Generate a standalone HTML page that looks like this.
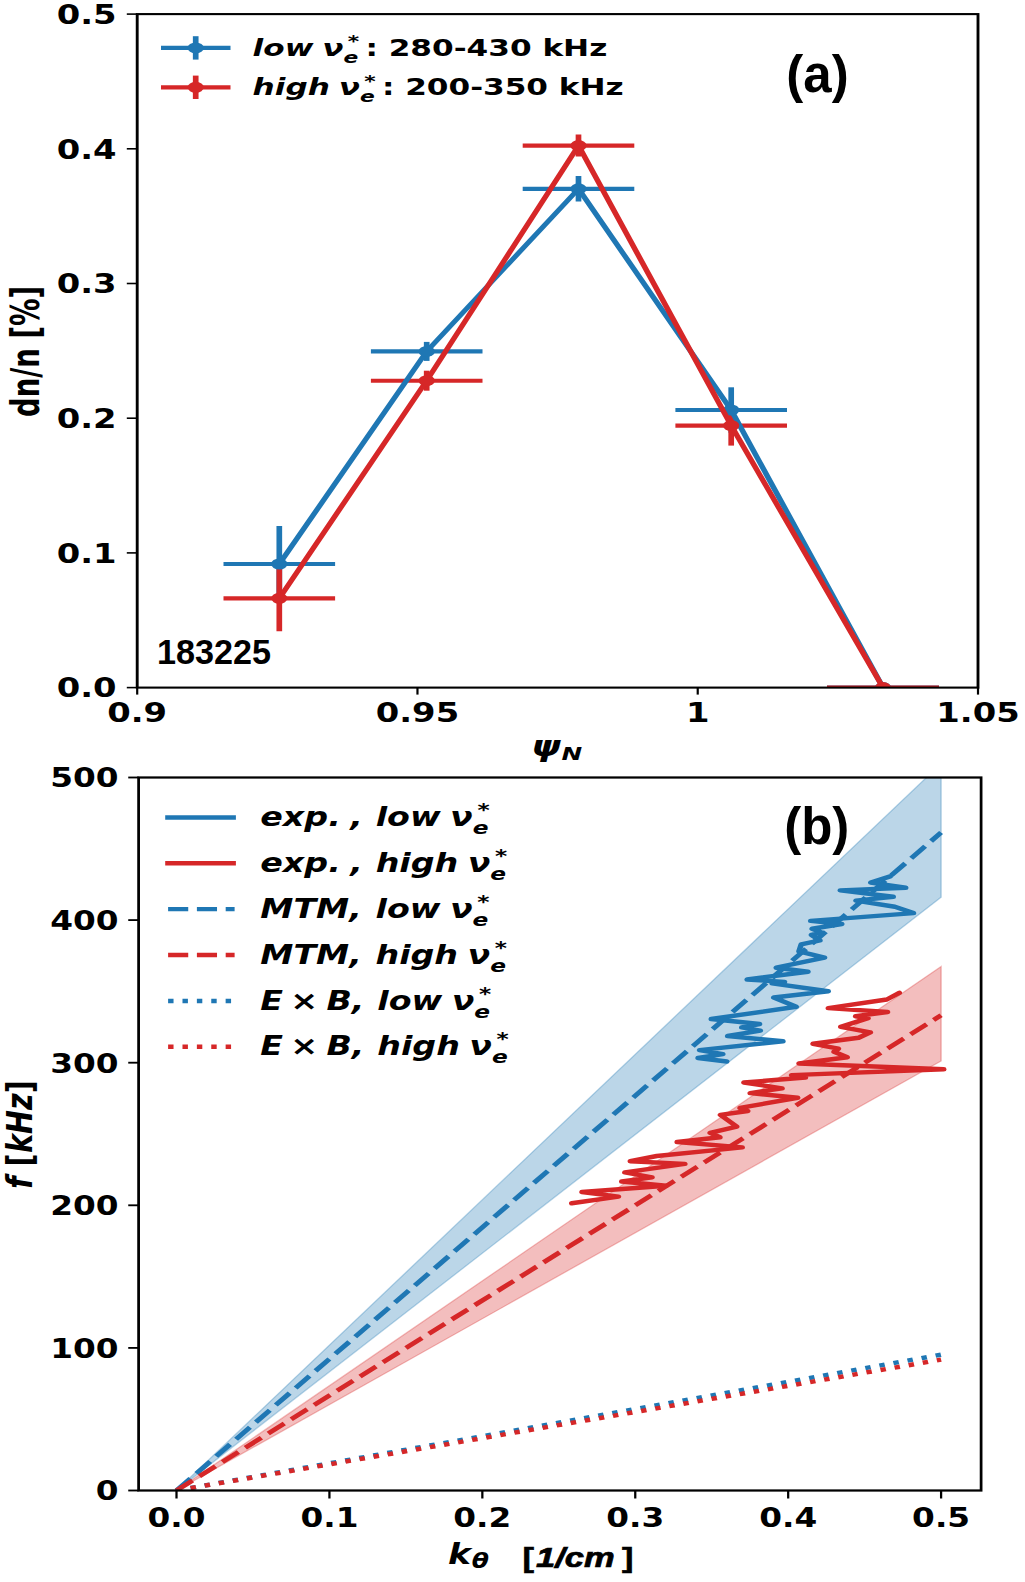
<!DOCTYPE html>
<html lang="en"><head><meta charset="utf-8"><title>Figure: density fluctuation profiles and MTM dispersion</title>
<style>
html,body{margin:0;padding:0;background:#fff}
svg{display:block}
text{fill:#000;white-space:pre}
.b{font-family:"DejaVu Sans","Liberation Sans",sans-serif;font-weight:700}
.bi{font-family:"DejaVu Sans","Liberation Sans",sans-serif;font-weight:700;font-style:italic}
.lbi{font-family:"Liberation Sans","DejaVu Sans",sans-serif;font-weight:700;font-style:italic;stroke:#000;stroke-width:.7px}
.abk{font-family:"Liberation Sans","DejaVu Sans",sans-serif;font-weight:700;stroke:#000;stroke-width:.6px}
.r{font-family:"DejaVu Sans","Liberation Sans",sans-serif;font-weight:400}
.ab{font-family:"Liberation Sans","DejaVu Sans",sans-serif;font-weight:700}
</style></head><body>
<svg width="1025" height="1582" viewBox="0 0 1025 1582">
<rect width="1025" height="1582" fill="#fff"/>
<defs><clipPath id="ca"><rect x="137.2" y="14.1" width="840.8" height="673.5"/></clipPath>
<clipPath id="cb"><rect x="138.6" y="777.5" width="842.5" height="713"/></clipPath></defs>
<g clip-path="url(#ca)"><g transform="scale(1.37,1)">
<g stroke="#1f77b4" fill="none" stroke-width="4.15"><path d="M163.14 564H244.6"/><path d="M203.87 526V602"/><path d="M270.73 351.4H352.19"/><path d="M311.46 341.9V360.9"/><path d="M381.53 188.8H462.99"/><path d="M422.26 176.1V201.5"/><path d="M492.99 410H574.45"/><path d="M533.72 387.3V432.7"/><path d="M603.65 687.6H685.4"/></g>
<g stroke="#d62728" fill="none" stroke-width="4.15"><path d="M163.14 598.3H244.6"/><path d="M203.87 565.3V631.3"/><path d="M270.73 380.7H352.19"/><path d="M311.46 370.7V390.7"/><path d="M381.53 145.6H462.99"/><path d="M422.26 134.6V156.6"/><path d="M492.99 425.6H574.45"/><path d="M533.72 405.6V445.6"/><path d="M603.65 687.6H685.4"/></g>
<polyline stroke="#1f77b4" fill="none" stroke-width="4.15" stroke-linejoin="round" points="203.87,564 311.46,351.4 422.26,188.8 533.72,410 644.53,687.6"/><g fill="#1f77b4"><ellipse cx="203.87" cy="564" rx="5.9" ry="5.5"/><ellipse cx="311.46" cy="351.4" rx="5.9" ry="5.5"/><ellipse cx="422.26" cy="188.8" rx="5.9" ry="5.5"/><ellipse cx="533.72" cy="410" rx="5.9" ry="5.5"/><ellipse cx="644.53" cy="687.6" rx="5.9" ry="5.5"/></g>
<polyline stroke="#d62728" fill="none" stroke-width="4.15" stroke-linejoin="round" points="203.87,598.3 311.46,380.7 422.26,145.6 533.72,425.6 644.53,687.6"/><g fill="#d62728"><ellipse cx="203.87" cy="598.3" rx="5.9" ry="5.5"/><ellipse cx="311.46" cy="380.7" rx="5.9" ry="5.5"/><ellipse cx="422.26" cy="145.6" rx="5.9" ry="5.5"/><ellipse cx="533.72" cy="425.6" rx="5.9" ry="5.5"/><ellipse cx="644.53" cy="687.6" rx="5.9" ry="5.5"/></g>
</g></g>
<g transform="scale(1.37,1)" stroke="#000" fill="none"><rect x="100.15" y="14.1" width="613.72" height="673.5" stroke-width="2.1"/><g stroke-width="1.6"><path d="M100.15 687.6v7"/><path d="M304.72 687.6v7"/><path d="M509.29 687.6v7"/><path d="M713.87 687.6v7"/><path d="M100.15 687.6h-7.6"/><path d="M100.15 552.9h-7.6"/><path d="M100.15 418.2h-7.6"/><path d="M100.15 283.5h-7.6"/><path d="M100.15 148.8h-7.6"/><path d="M100.15 14.1h-7.6"/></g></g>
<g transform="translate(137.2,722) scale(1.28,1)"><text class="b" x="-23.38" y="0" font-size="26.4">0.9</text></g>
<g transform="translate(417.47,722) scale(1.28,1)"><text class="b" x="-32.57" y="0" font-size="26.4">0.95</text></g>
<g transform="translate(697.73,722) scale(1.28,1)"><text class="b" x="-9.18" y="0" font-size="26.4">1</text></g>
<g transform="translate(978,722) scale(1.28,1)"><text class="b" x="-32.57" y="0" font-size="26.4">1.05</text></g>
<g transform="translate(116.6,697.4) scale(1.28,1)"><text class="b" x="-46.77" y="0" font-size="26.4">0.0</text></g>
<g transform="translate(116.6,562.7) scale(1.28,1)"><text class="b" x="-46.77" y="0" font-size="26.4">0.1</text></g>
<g transform="translate(116.6,428) scale(1.28,1)"><text class="b" x="-46.77" y="0" font-size="26.4">0.2</text></g>
<g transform="translate(116.6,293.3) scale(1.28,1)"><text class="b" x="-46.77" y="0" font-size="26.4">0.3</text></g>
<g transform="translate(116.6,158.6) scale(1.28,1)"><text class="b" x="-46.77" y="0" font-size="26.4">0.4</text></g>
<g transform="translate(116.6,23.9) scale(1.28,1)"><text class="b" x="-46.77" y="0" font-size="26.4">0.5</text></g>
<g transform="scale(1.37,1)"><g stroke="#1f77b4" stroke-width="4.15"><path d="M117.52 47.9H168.25"/><path d="M142.85 36.2V59.6"/></g><ellipse cx="142.85" cy="47.9" rx="5.9" ry="5.5" fill="#1f77b4"/></g>
<g transform="translate(252.6,55.9) scale(1.39,1)"><text class="bi" x="0" y="0" font-size="22.4">low </text><text class="bi" x="50.1" y="0" font-size="22.4">ν</text><text class="bi" x="65.36" y="6.94" font-size="15.68">e</text><text class="b" x="68.5" y="-8.51" font-size="15.68">*</text><text class="b" x="81.18" y="0" font-size="22.4"></text><text class="b" x="81.18" y="0" font-size="22.4">: 280-430 kHz</text></g>
<g transform="scale(1.37,1)"><g stroke="#d62728" stroke-width="4.15"><path d="M117.52 87.3H168.25"/><path d="M142.85 75.6V99"/></g><ellipse cx="142.85" cy="87.3" rx="5.9" ry="5.5" fill="#d62728"/></g>
<g transform="translate(252.6,95.3) scale(1.39,1)"><text class="bi" x="0" y="0" font-size="22.4">high </text><text class="bi" x="61.95" y="0" font-size="22.4">ν</text><text class="bi" x="77.21" y="6.94" font-size="15.68">e</text><text class="b" x="80.34" y="-8.51" font-size="15.68">*</text><text class="b" x="93.02" y="0" font-size="22.4"></text><text class="b" x="93.02" y="0" font-size="22.4">: 200-350 kHz</text></g>
<g transform="translate(38.9,351.45) scale(1.39,1) rotate(-90)"><text class="b" x="-65.57" y="0" font-size="27.5">dn/n [%]</text></g>
<g transform="translate(531.3,756) scale(1.35,1)"><text class="bi" x="0" y="0" font-size="27.5">ψ</text><text class="bi" x="22.33" y="4" font-size="18.3">N</text></g>
<text class="ab" x="817.5" y="92.4" font-size="51" text-anchor="middle">(a)</text>
<text class="ab" x="156.9" y="663.6" font-size="34.2">183225</text>
<g clip-path="url(#cb)"><g transform="scale(1.22,1)" fill="none" stroke-width="4.45">
<polygon points="144.67,1490.5 771.39,763.6 771.39,897.28" fill="#1f77b4" fill-opacity="0.3" stroke="#1f77b4" stroke-opacity="0.3" stroke-width="1.2"/>
<polygon points="144.67,1490.5 771.39,966.45 771.39,1060.92" fill="#d62728" fill-opacity="0.3" stroke="#d62728" stroke-opacity="0.3" stroke-width="1.2"/>
<path d="M144.67 1490.5L771.39 832.54" stroke="#1f77b4" stroke-dasharray="16.5 7.1"/>
<path d="M144.67 1490.5L771.39 1015.29" stroke="#d62728" stroke-dasharray="16.5 7.1"/>
<path d="M144.67 1490.5L771.39 1354.67" stroke="#1f77b4" stroke-dasharray="4.45 7.34"/>
<path d="M144.67 1490.5L771.39 1359.66" stroke="#d62728" stroke-dasharray="4.45 7.34"/>
<polyline stroke="#1f77b4" stroke-linejoin="round" stroke-linecap="round" points="595.74,1061.5 572.13,1058 592.54,1054.1 573.36,1050.1 641.8,1041.2 596.39,1036 623.28,1030.6 607.95,1027.4 622.62,1024 582.95,1019 652.7,1006.8 634.18,997.5 678.93,991.2 632.87,983.4 643.11,981.9 612.38,979.5 662.3,971.7 636.23,967.7 675.9,957.6 654.84,951.3 656.72,944.3 672.13,940.4 665.08,934.9 673.36,932.6 665.66,928.7 690,924 664.43,920.9 748.85,913.1 733.52,906.8 701.56,900.6 732.21,896.7 688.69,890.4 742.46,887.8 713.69,882.6 729.67,876.4"/>
<polyline stroke="#d62728" stroke-linejoin="round" stroke-linecap="round" points="468.61,1203.3 506.97,1196.6 476.97,1192 545.98,1185.7 509.59,1181.5 534.51,1177.4 512.13,1172.4 561.39,1163.9 516.56,1161.2 538.36,1156 608.44,1147.4 555,1142 590.16,1137.3 582.05,1132.9 603.93,1126.6 590.49,1114.9 612.95,1111 606.56,1107.9 653.85,1097.8 614.84,1093.1 641.07,1088.4 609.75,1082.5 660.25,1077.5 648.77,1075.1 773.61,1069.3 654.84,1063.5 694.51,1057.3 683.61,1051.8 687.21,1048.7 666.39,1043.8 703.85,1037.8 713.44,1032.3 689.1,1026.8 711.56,1018.2 701.31,1016.2 727.54,1012 678.85,1008.1 726.89,999.5 737.13,992.8"/>
</g></g>
<g transform="scale(1.22,1)" stroke="#000" fill="none"><rect x="113.61" y="777.5" width="690.57" height="713" stroke-width="2.25"/><g stroke-width="1.85"><path d="M144.67 1490.5v8"/><path d="M270.02 1490.5v8"/><path d="M395.36 1490.5v8"/><path d="M520.7 1490.5v8"/><path d="M646.05 1490.5v8"/><path d="M771.39 1490.5v8"/><path d="M113.61 1490.5h-8.5"/><path d="M113.61 1347.9h-8.5"/><path d="M113.61 1205.3h-8.5"/><path d="M113.61 1062.7h-8.5"/><path d="M113.61 920.1h-8.5"/><path d="M113.61 777.5h-8.5"/></g></g>
<g transform="translate(176.5,1526.8) scale(1.24,1)"><text class="b" x="-23.38" y="0" font-size="26.4">0.0</text></g>
<g transform="translate(329.42,1526.8) scale(1.24,1)"><text class="b" x="-23.38" y="0" font-size="26.4">0.1</text></g>
<g transform="translate(482.34,1526.8) scale(1.24,1)"><text class="b" x="-23.38" y="0" font-size="26.4">0.2</text></g>
<g transform="translate(635.26,1526.8) scale(1.24,1)"><text class="b" x="-23.38" y="0" font-size="26.4">0.3</text></g>
<g transform="translate(788.18,1526.8) scale(1.24,1)"><text class="b" x="-23.38" y="0" font-size="26.4">0.4</text></g>
<g transform="translate(941.1,1526.8) scale(1.24,1)"><text class="b" x="-23.38" y="0" font-size="26.4">0.5</text></g>
<g transform="translate(118.6,1500.3) scale(1.24,1)"><text class="b" x="-18.37" y="0" font-size="26.4">0</text></g>
<g transform="translate(118.6,1357.7) scale(1.24,1)"><text class="b" x="-55.11" y="0" font-size="26.4">100</text></g>
<g transform="translate(118.6,1215.1) scale(1.24,1)"><text class="b" x="-55.11" y="0" font-size="26.4">200</text></g>
<g transform="translate(118.6,1072.5) scale(1.24,1)"><text class="b" x="-55.11" y="0" font-size="26.4">300</text></g>
<g transform="translate(118.6,929.9) scale(1.24,1)"><text class="b" x="-55.11" y="0" font-size="26.4">400</text></g>
<g transform="translate(118.6,787.3) scale(1.24,1)"><text class="b" x="-55.11" y="0" font-size="26.4">500</text></g>
<path transform="scale(1.22,1)" d="M135.41 817.4H193.36" stroke="#1f77b4" stroke-width="4.45"/>
<g transform="translate(260.3,826) scale(1.27,1)"><text class="bi" x="0" y="0" font-size="26.2">exp.</text><text class="bi" x="70.78" y="0" font-size="26.2">,</text><text class="bi" x="81.73" y="0" font-size="26.2"> low </text><text class="bi" x="149.45" y="0" font-size="26.2">ν</text><text class="bi" x="167.3" y="8.12" font-size="18.34">e</text><text class="b" x="170.97" y="-9.96" font-size="18.34">*</text><text class="b" x="183.18" y="0" font-size="26.2"></text></g>
<path transform="scale(1.22,1)" d="M135.41 863.3H193.36" stroke="#d62728" stroke-width="4.45"/>
<g transform="translate(260.3,871.9) scale(1.27,1)"><text class="bi" x="0" y="0" font-size="26.2">exp.</text><text class="bi" x="70.78" y="0" font-size="26.2">,</text><text class="bi" x="81.73" y="0" font-size="26.2"> high </text><text class="bi" x="163.31" y="0" font-size="26.2">ν</text><text class="bi" x="181.16" y="8.12" font-size="18.34">e</text><text class="b" x="184.82" y="-9.96" font-size="18.34">*</text><text class="b" x="197.03" y="0" font-size="26.2"></text></g>
<path transform="scale(1.22,1)" d="M137.79 909.1H192.3" stroke="#1f77b4" stroke-width="4.45" stroke-dasharray="16.5 7.1"/>
<g transform="translate(260.3,917.7) scale(1.27,1)"><text class="bi" x="0" y="0" font-size="26.2">MTM, </text><text class="bi" x="90.69" y="0" font-size="26.2">low </text><text class="bi" x="149.29" y="0" font-size="26.2">ν</text><text class="bi" x="167.14" y="8.12" font-size="18.34">e</text><text class="b" x="170.81" y="-9.96" font-size="18.34">*</text><text class="b" x="183.02" y="0" font-size="26.2"></text></g>
<path transform="scale(1.22,1)" d="M137.79 955H192.3" stroke="#d62728" stroke-width="4.45" stroke-dasharray="16.5 7.1"/>
<g transform="translate(260.3,963.6) scale(1.27,1)"><text class="bi" x="0" y="0" font-size="26.2">MTM, </text><text class="bi" x="90.69" y="0" font-size="26.2">high </text><text class="bi" x="163.15" y="0" font-size="26.2">ν</text><text class="bi" x="181" y="8.12" font-size="18.34">e</text><text class="b" x="184.66" y="-9.96" font-size="18.34">*</text><text class="b" x="196.87" y="0" font-size="26.2"></text></g>
<path transform="scale(1.22,1)" d="M137.79 1000.9H192.3" stroke="#1f77b4" stroke-width="4.45" stroke-dasharray="4.45 7.34"/>
<g transform="translate(260.3,1009.5) scale(1.27,1)"><text class="bi" x="0" y="0" font-size="26.2">E</text><text class="bi" x="23.5" y="0" font-size="26.2">×</text><text class="bi" x="52.05" y="0" font-size="26.2">B,</text><text class="bi" x="82.97" y="0" font-size="26.2"> low </text><text class="bi" x="150.7" y="0" font-size="26.2">ν</text><text class="bi" x="168.54" y="8.12" font-size="18.34">e</text><text class="b" x="172.21" y="-9.96" font-size="18.34">*</text><text class="b" x="184.42" y="0" font-size="26.2"></text></g>
<path transform="scale(1.22,1)" d="M137.79 1046.7H192.3" stroke="#d62728" stroke-width="4.45" stroke-dasharray="4.45 7.34"/>
<g transform="translate(260.3,1055.3) scale(1.27,1)"><text class="bi" x="0" y="0" font-size="26.2">E</text><text class="bi" x="23.5" y="0" font-size="26.2">×</text><text class="bi" x="52.05" y="0" font-size="26.2">B,</text><text class="bi" x="82.97" y="0" font-size="26.2"> high </text><text class="bi" x="164.55" y="0" font-size="26.2">ν</text><text class="bi" x="182.4" y="8.12" font-size="18.34">e</text><text class="b" x="186.07" y="-9.96" font-size="18.34">*</text><text class="b" x="198.28" y="0" font-size="26.2"></text></g>
<g transform="translate(31.6,1134.5) scale(1.25,1) rotate(-90)"><text class="bi" x="-54.33" y="0" font-size="28.5">f </text><text class="b" x="-32.01" y="0" font-size="28.5">[</text><text class="bi" x="-18.39" y="0" font-size="28.5">kHz</text><text class="b" x="41.31" y="0" font-size="28.5">]</text></g>
<g transform="translate(448,1563.5) scale(1.21,1)"><text class="bi" x="0" y="0" font-size="28.5">k</text><text class="bi" x="19.65" y="4.7" font-size="20.7">θ</text></g>
<g transform="translate(522.4,1567.1) scale(1.21,1)"><text class="abk" x="0" y="0" font-size="28.5">[</text><text class="lbi" x="11.24" y="0" font-size="28.5">1/cm</text><text class="abk" x="82.3" y="0" font-size="28.5">]</text></g>
<text class="ab" x="816.8" y="843.7" font-size="51" text-anchor="middle">(b)</text>
</svg>
</body></html>
